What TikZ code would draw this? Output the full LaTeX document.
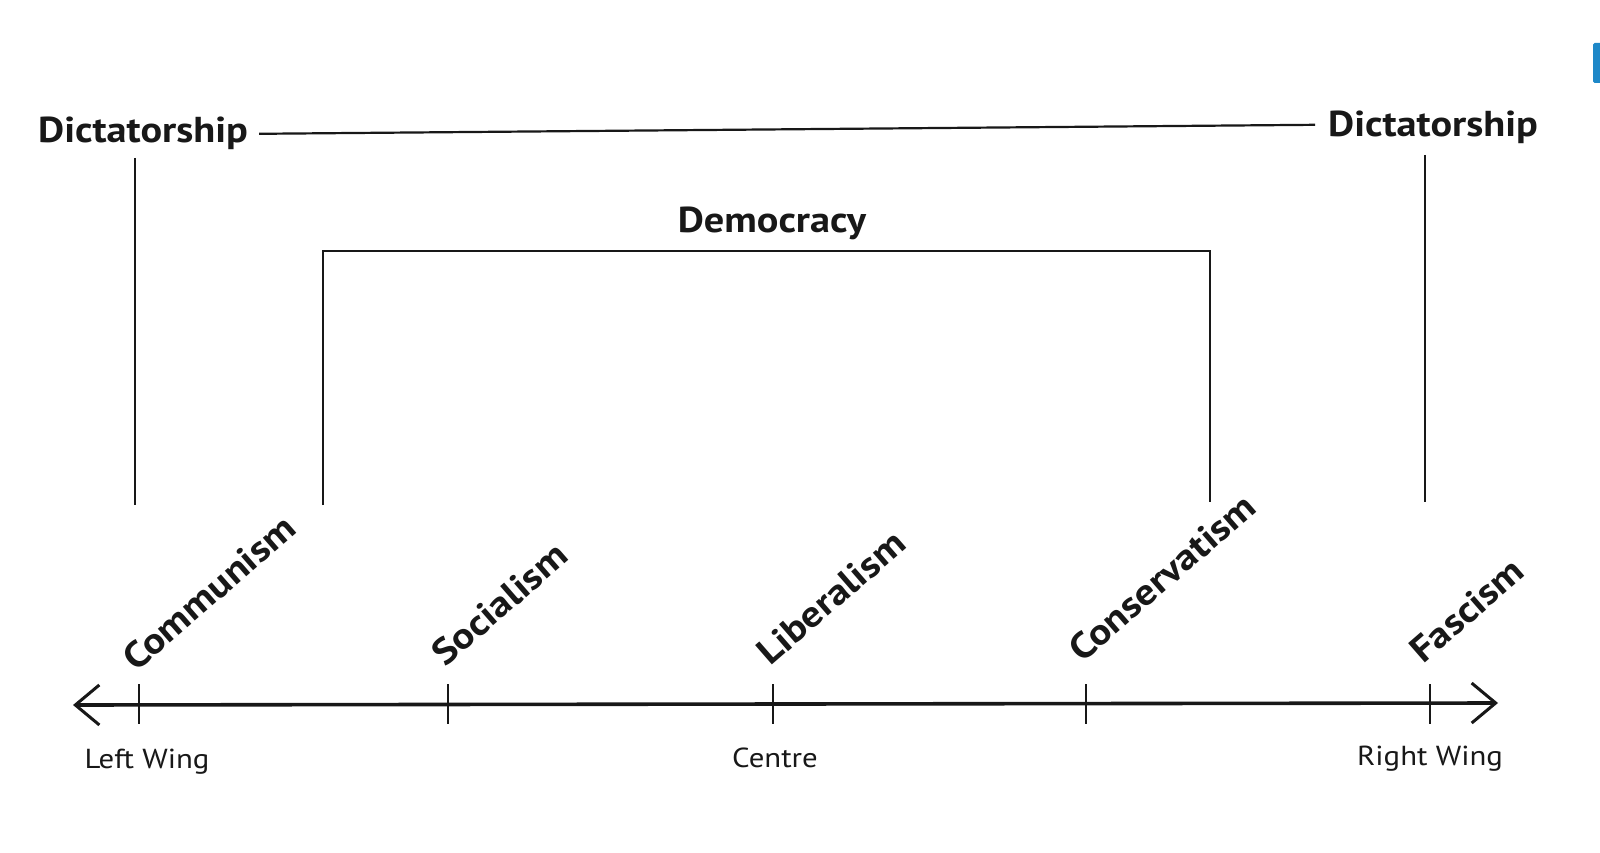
\documentclass[tikz,border=0pt]{standalone}
\usepackage{fontspec}
\setmainfont{PT Sans}[FakeStretch=1.12]
\usetikzlibrary{arrows.meta}
\definecolor{ink}{RGB}{24,24,24}
\definecolor{tabblue}{RGB}{30,136,200}
\begin{document}
\begin{tikzpicture}[x=1pt,y=-1pt,
  bigtxt/.style={font=\bfseries\fontsize{36}{40}\selectfont, inner sep=0pt, text=ink},
  ideo/.style={font=\bfseries\fontsize{36.5}{40}\selectfont, inner sep=0pt, anchor=base west, rotate=41, text=ink},
  smalltxt/.style={font=\fontsize{27.5}{30}\selectfont, inner sep=0pt, anchor=base, text=ink},
  thinline/.style={line width=2.2pt, draw=ink},
  axisline/.style={line width=3.6pt, draw=ink, {Straight Barb[length=24pt,width=40pt,line width=3pt]}-{Straight Barb[length=24pt,width=40pt,line width=3pt]}},
  tickline/.style={line width=2pt, draw=ink}]
\useasboundingbox (0,0) rectangle (1600,853);
\fill[white] (0,0) rectangle (1600,853);
% blue tab at top right
\fill[tabblue, rounded corners=1.5pt] (1593,43) rectangle (1603,83);

% Dictatorship labels and top line
\node[bigtxt, anchor=base west] (ldict) at (38,143) {Dictatorship};
\node[bigtxt, anchor=base west] (rdict) at (1328,137) {Dictatorship};
\draw[thinline] ([xshift=11pt,yshift=0pt]ldict.east) -- ([xshift=-13pt,yshift=3pt]rdict.west);

% Dictatorship verticals
\coordinate (lvtop) at (135,158);
\coordinate (lvbot) at (135,505);
\coordinate (rvtop) at (1425,155);
\coordinate (rvbot) at (1425,502);
\draw[thinline] (lvtop) -- (lvbot);
\draw[thinline] (rvtop) -- (rvbot);

% Democracy bracket
\node[bigtxt, anchor=base] (demo) at (772,232) {Democracy};
\coordinate (dlb) at (323,505);
\coordinate (dlt) at (323,251);
\coordinate (drt) at (1210,251);
\coordinate (drb) at (1210,502);
\draw[thinline] (dlb) -- (dlt) -- (drt) -- (drb);

% Axis
\coordinate (axl) at (73,705);
\coordinate (axr) at (1498,703);
\draw[axisline] (axl) -- (axr);

% Ticks
\foreach \n/\x in {t1/139, t2/448, t3/773, t4/1086, t5/1430} {
  \coordinate (\n top) at (\x,684);
  \coordinate (\n bot) at (\x,724);
  \draw[tickline] (\n top) -- (\n bot);
}

% Ideology labels
\node[ideo] (comm) at (136,673) {Communism};
\node[ideo] (soc) at (445,668) {Socialism};
\node[ideo] (lib) at (770,667) {Liberalism};
\node[ideo] (cons) at (1082,664) {Conservatism};
\node[ideo] (fasc) at (1423,665) {Fascism};

% Axis labels
\node[smalltxt] (lw) at (147,768) {Left Wing};
\node[smalltxt] (ce) at (775,767) {Centre};
\node[smalltxt] (rw) at (1430,765) {Right Wing};
\end{tikzpicture}
\end{document}
